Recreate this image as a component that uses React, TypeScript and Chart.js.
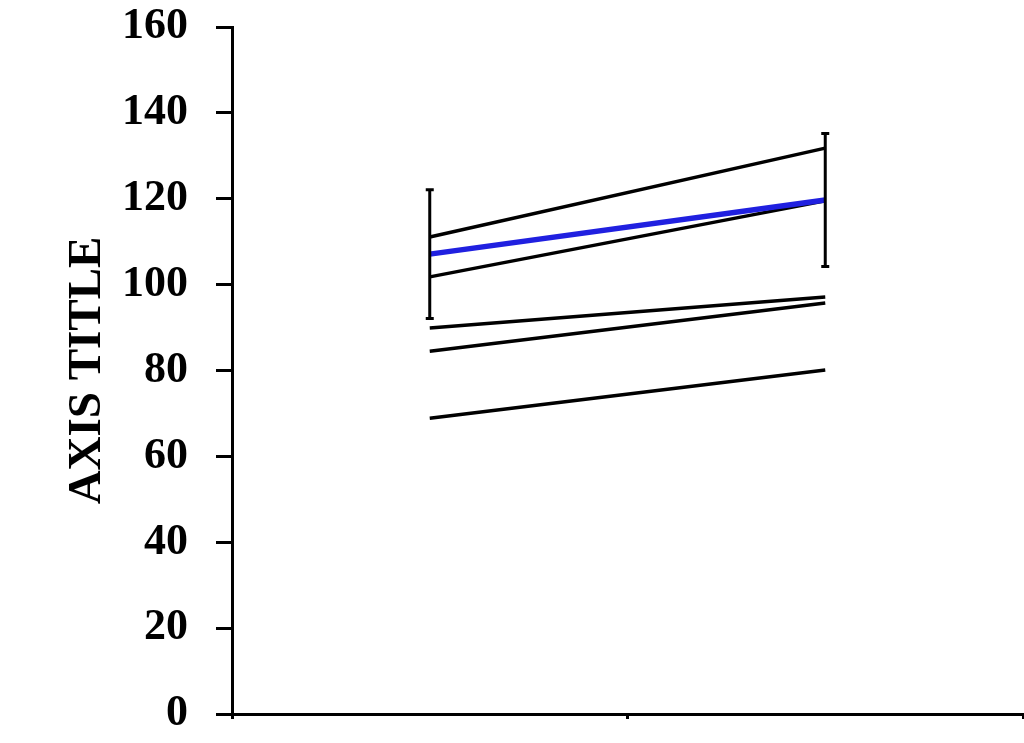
import React, { useEffect, useRef } from "react";
import { Chart, registerables } from "chart.js";

Chart.register(...registerables);

const categories = ["Pre", "Post"];
const subject1 = [111.1, 131.8];
const subject2 = [101.8, 119.5];
const subject3 = [89.9, 97.1];
const subject4 = [84.5, 95.7];
const subject5 = [68.9, 80.1];
const meanValues = [107.1, 119.7];
const errorValues = [15.0, 15.5];
const yTicks = [0, 20, 40, 60, 80, 100, 120, 140, 160];
const axisTitle = "AXIS TITLE";

const FONT = "'Liberation Serif', 'Times New Roman', Times, serif";

const errorBarPlugin = {
  id: "errorBars",
  afterDatasetsDraw(chart: any) {
    const ctx = chart.ctx;
    const xs = chart.scales.x;
    const ys = chart.scales.y;
    ctx.save();
    ctx.strokeStyle = "#000";
    ctx.lineWidth = 3;
    meanValues.forEach((m, i) => {
      const x = xs.getPixelForValue(i);
      const yTop = ys.getPixelForValue(m + errorValues[i]);
      const yBot = ys.getPixelForValue(m - errorValues[i]);
      ctx.beginPath();
      ctx.moveTo(x, yTop);
      ctx.lineTo(x, yBot);
      ctx.moveTo(x - 4, yTop);
      ctx.lineTo(x + 4, yTop);
      ctx.moveTo(x - 4, yBot);
      ctx.lineTo(x + 4, yBot);
      ctx.stroke();
    });
    ctx.restore();
  },
};

export default function App() {
  const ref = useRef<HTMLCanvasElement>(null);
  useEffect(() => {
    if (!ref.current) return;
    const black = (data: number[]) => ({
      data,
      borderColor: "#000",
      borderWidth: 3.5,
      pointRadius: 0,
      tension: 0,
      fill: false,
    });
    const chart = new Chart(ref.current, {
      type: "line",
      data: {
        labels: categories,
        datasets: [
          {
            data: meanValues,
            borderColor: "rgb(32,32,224)",
            borderWidth: 5.5,
            pointRadius: 0,
            tension: 0,
            fill: false,
          },
          black(subject1),
          black(subject2),
          black(subject3),
          black(subject4),
          black(subject5),
        ],
      },
      options: {
        responsive: false,
        animation: false,
        layout: { padding: { top: 0, right: 1, bottom: 0, left: 0 } },
        plugins: { legend: { display: false }, tooltip: { enabled: false } },
        scales: {
          x: {
            offset: true,
            grid: {
              offset: true,
              drawOnChartArea: false,
              drawTicks: true,
              tickLength: 5,
              tickWidth: 3,
              tickColor: "#000",
            },
            border: { color: "#000", width: 3 },
            ticks: { display: false },
            afterFit: (s: any) => {
              s.height = 29;
              s.paddingLeft = 0;
              s.paddingRight = 0;
            },
          },
          y: {
            min: 0,
            max: 160,
            afterBuildTicks: (s: any) => {
              s.ticks = yTicks.map((v) => ({ value: v }));
            },
            grid: {
              drawOnChartArea: false,
              drawTicks: true,
              tickLength: 16,
              tickWidth: 3,
              tickColor: "#000",
            },
            border: { color: "#000", width: 3 },
            ticks: {
              color: "#000",
              padding: 28,
              font: { family: FONT, size: 44, weight: "bold" },
            },
            title: {
              display: true,
              text: axisTitle,
              color: "#000",
              padding: { top: 60, bottom: 0 },
              font: { family: FONT, size: 47, weight: "bold" },
            },
            afterFit: (s: any) => {
              s.width = 232;
              s.paddingTop = 27;
              s.paddingBottom = 29;
            },
          },
        },
      },
      plugins: [errorBarPlugin],
    } as any);
    return () => chart.destroy();
  }, []);
  return (
    <div style={{ position: "fixed", left: 0, top: 0, width: 1024, height: 743, background: "#fff" }}>
      <canvas ref={ref} width={1024} height={743} />
    </div>
  );
}
